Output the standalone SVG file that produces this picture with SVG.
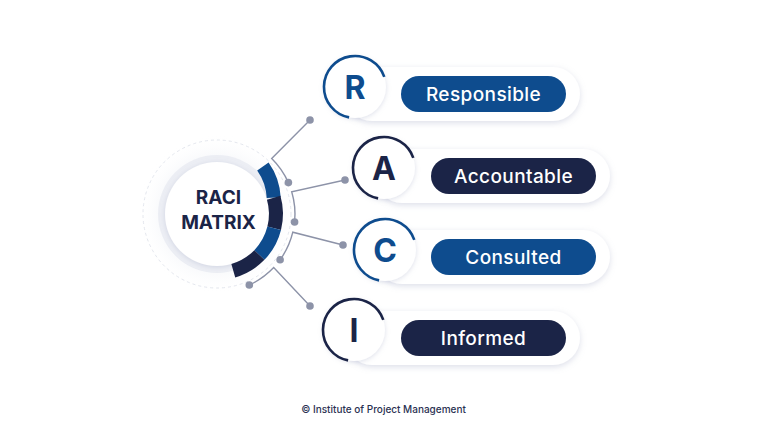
<svg xmlns="http://www.w3.org/2000/svg" width="768" height="432" viewBox="0 0 768 432">
  <defs>
    <filter id="sh" x="-20%" y="-40%" width="140%" height="180%">
      <feDropShadow dx="0" dy="2" stdDeviation="3" flood-color="#9aa3c0" flood-opacity="0.35"/>
    </filter>
    <filter id="sh2" x="-40%" y="-40%" width="180%" height="180%">
      <feDropShadow dx="0" dy="1" stdDeviation="2.5" flood-color="#9aa3c0" flood-opacity="0.35"/>
    </filter>
    <radialGradient id="glow" cx="0.5" cy="0.5" r="0.5">
      <stop offset="0.6" stop-color="#f2f4f8"/>
      <stop offset="1" stop-color="#ffffff" stop-opacity="0"/>
    </radialGradient>
  </defs>
  <style>
    .card { fill: #ffffff; filter: url(#sh); }
    .lc { fill: #ffffff; filter: url(#sh2); }
    .arc { fill: none; stroke-width: 2.6; }
    .blue { fill: #0e4c8e; }
    .navy { fill: #1b2447; }
    .sblue { stroke: #0e4c8e; }
    .snavy { stroke: #1b2447; }
    .letter { font-family: Inter, "Liberation Sans", sans-serif; font-weight: 700; font-size: 32px; text-anchor: middle; }
    .ptxt { font-family: Inter, "Liberation Sans", sans-serif; font-weight: 500; font-size: 19px; letter-spacing: 0.4px; fill: #ffffff; text-anchor: middle; }
    .ctxt { font-family: Inter, "Liberation Sans", sans-serif; font-weight: 700; font-size: 19px; fill: #1b2447; text-anchor: middle; }
    .conn { fill: none; stroke: #8d93a8; stroke-width: 1.4; }
    .dot { fill: #8d93a8; }
    .seg { fill: none; stroke-width: 14; }
  </style>
  <rect width="768" height="432" fill="#ffffff"/>

  <g id="center">
    <circle cx="217" cy="214" r="80" fill="url(#glow)"/>
    <circle cx="217" cy="214" r="74" fill="none" stroke="#e4e7ee" stroke-width="1" stroke-dasharray="3 3"/>
    <circle cx="217" cy="214" r="59" fill="#eceef4"/>
    <circle cx="217" cy="214" r="52" fill="#ffffff" filter="url(#sh2)"/>
    <path class="seg sblue" d="M262.9,166.5 A59 59 0 0 1 273.7,197.7"/>
    <path class="seg snavy" d="M273.7,197.7 A59 59 0 0 1 274.2,228.3"/>
    <path class="seg sblue" d="M274.2,228.3 A59 59 0 0 1 259.4,255"/>
    <path class="seg snavy" d="M259.4,255 A59 59 0 0 1 233.3,270.7"/>
    <text class="ctxt" x="218.5" y="203.5">RACI</text>
    <text class="ctxt" x="218.5" y="228.5">MATRIX</text>
  </g>

  <g id="connectors">
    <path class="conn" d="M310,120 L271.7,158.4 A78 78 0 0 1 288.4,182.6"/>
    <path class="conn" d="M345,180 L291.7,191.7 A78 78 0 0 1 294.6,222"/>
    <path class="conn" d="M343,245 L292.8,232.2 A78 78 0 0 1 280.1,259.8"/>
    <path class="conn" d="M310,306 L273.7,267.6 A78 78 0 0 1 249.3,285"/>
    <circle class="dot" cx="310" cy="120" r="3.8"/>
    <circle class="dot" cx="288.4" cy="182.6" r="3.8"/>
    <circle class="dot" cx="345" cy="180" r="3.8"/>
    <circle class="dot" cx="294.6" cy="222" r="3.8"/>
    <circle class="dot" cx="343" cy="245" r="3.8"/>
    <circle class="dot" cx="280.1" cy="259.8" r="3.8"/>
    <circle class="dot" cx="310" cy="306" r="3.8"/>
    <circle class="dot" cx="249.3" cy="285" r="3.8"/>
  </g>

  <g id="responsible">
    <rect class="card" x="345" y="67" width="235" height="54" rx="27"/>
    <circle class="lc" cx="355" cy="87" r="31"/>
    <path class="arc sblue" d="M349.1,117.4 A31 31 0 1 1 384.3,76.9"/>
    <text class="letter blue" x="355" y="98.5">R</text>
    <rect class="blue" x="401" y="76" width="165" height="36" rx="18"/>
    <text class="ptxt" x="483.5" y="100.8">Responsible</text>
  </g>

  <g id="accountable">
    <rect class="card" x="375" y="149" width="235" height="54" rx="27"/>
    <circle class="lc" cx="384" cy="168" r="31"/>
    <path class="arc snavy" d="M378.1,198.4 A31 31 0 1 1 413.3,157.9"/>
    <text class="letter navy" x="384" y="179.5">A</text>
    <rect class="navy" x="431" y="158" width="165" height="36" rx="18"/>
    <text class="ptxt" x="513.5" y="182.8">Accountable</text>
  </g>

  <g id="consulted">
    <rect class="card" x="375" y="230" width="235" height="54" rx="27"/>
    <circle class="lc" cx="385" cy="250" r="31"/>
    <path class="arc sblue" d="M379.1,280.4 A31 31 0 1 1 414.3,239.9"/>
    <text class="letter blue" x="385" y="261.5">C</text>
    <rect class="blue" x="431" y="239" width="165" height="36" rx="18"/>
    <text class="ptxt" x="513.5" y="263.8">Consulted</text>
  </g>

  <g id="informed">
    <rect class="card" x="345" y="311" width="235" height="54" rx="27"/>
    <circle class="lc" cx="354" cy="330" r="31"/>
    <path class="arc snavy" d="M348.1,360.4 A31 31 0 1 1 383.3,319.9"/>
    <text class="letter navy" x="354" y="341.5">I</text>
    <rect class="navy" x="401" y="320" width="165" height="36" rx="18"/>
    <text class="ptxt" x="483.5" y="344.8">Informed</text>
  </g>

  <text x="383.5" y="412.5" font-family="Inter, 'Liberation Sans', sans-serif" font-weight="500" font-size="10" fill="#2a3152" text-anchor="middle">© Institute of Project Management</text>
</svg>
